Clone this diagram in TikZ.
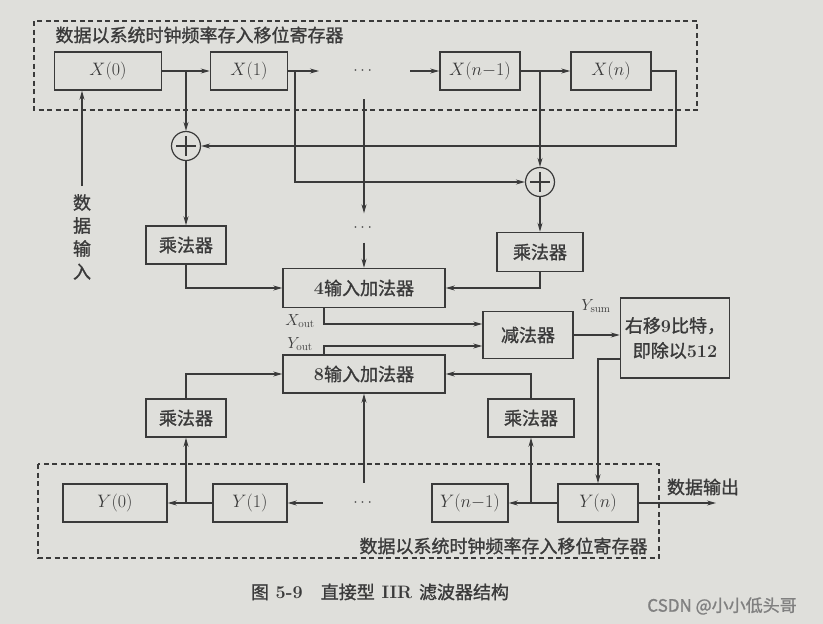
\RequirePackage{fix-cm}
\documentclass[tikz,border=0pt]{standalone}
\usepackage{amsmath}
\usepackage{fontspec}
\usetikzlibrary{arrows.meta,calc}
\newfontfamily\cjk{Noto Sans CJK SC}[FakeBold=1.2, AutoFakeBold=1.2]
\newcommand{\zh}[1]{{\cjk\bfseries #1}}
\definecolor{paper}{RGB}{223,223,219}
\definecolor{ink}{RGB}{58,58,58}

\begin{document}
\begin{tikzpicture}[x=1pt, y=-1pt,
    box/.style={draw=ink, line width=1.5pt, minimum height=38pt, inner sep=0pt,
                text=ink, font=\bfseries\fontsize{18}{20}\selectfont},
    addc/.style={draw=ink, line width=1.2pt, circle, minimum size=29pt, inner sep=0pt,
        path picture={\draw[ink, line width=1.2pt]
            ($(path picture bounding box.north)!0.17!(path picture bounding box.south)$) --
            ($(path picture bounding box.south)!0.17!(path picture bounding box.north)$)
            ($(path picture bounding box.west)!0.17!(path picture bounding box.east)$) --
            ($(path picture bounding box.east)!0.17!(path picture bounding box.west)$);}},
    arr/.style={draw=ink, line width=1.1pt, -{Stealth[length=9pt, width=5pt]}},
    dashbox/.style={draw=ink, line width=1.1pt, dash pattern=on 5pt off 3.5pt},
    lbl/.style={text=ink, font=\cjk\bfseries\fontsize{18}{22}\selectfont},
    mth/.style={text=ink, font=\fontsize{16}{18}\selectfont}
]
\useasboundingbox (0,0) rectangle (823,624);
\fill[paper] (0,0) rectangle (823,624);

\draw[dashbox] (34,21) rectangle (697,110);
\node[lbl, anchor=west] (xtitle) at (52,35) {数据以系统时钟频率存入移位寄存器};

\node[box, minimum width=107pt] (x0) at (108,71) {$X(0)$};
\node[box, minimum width=77pt] (x1) at (249,71) {$X(1)$};
\node[mth] (xdots) at (364,71) {$\cdots$};
\node[box, minimum width=80pt] (xn1) at (480,71) {$X(n{-}1)$};
\node[box, minimum width=80pt] (xn) at (611,71) {$X(n)$};
\coordinate (xa) at (319,71);
\coordinate (xb) at (410,71);
\coordinate (t2) at (295,71);
\coordinate (xfb) at (676,146);
\coordinate (mtop) at (364,99);
\coordinate (din) at (82,186);

\node[addc] (add1) at (186,146) {};
\node[addc] (add2) at (540,182) {};

\node[box, minimum width=80pt] (m1) at (186,245) {\zh{乘法器}};
\node[box, minimum width=86pt, minimum height=39pt] (m2) at (540,252) {\zh{乘法器}};
\node[mth, minimum height=29pt] (mdots) at (364,228) {$\cdots$};
\node[box, minimum width=162pt, minimum height=39pt] (add4) at (364,288) {4\zh{输入加法器}};
\node[box, minimum width=90pt, minimum height=47pt] (sub) at (528,335) {\zh{减法器}};
\node[box, minimum width=109pt, minimum height=80pt, align=center,
      font=\bfseries\fontsize{18}{25}\selectfont] (shift) at (675,338) {\zh{右移}9\zh{比特，}\\\zh{即除以}512};
\node[box, minimum width=162pt] (add8) at (364,374) {8\zh{输入加法器}};
\node[box, minimum width=80pt] (m3) at (186,418) {\zh{乘法器}};
\node[box, minimum width=86pt] (m4) at (531,418) {\zh{乘法器}};

\node[mth] (xoutl) at (300,321) {$X_{\text{out}}$};
\node[mth] (youtl) at (300,344) {$Y_{\text{out}}$};
\node[mth] (ysuml) at (596,306) {$Y_{\text{sum}}$};

\draw[dashbox] (38,464) rectangle (659,558);
\node[box, minimum width=104pt] (y0) at (115,503) {$Y(0)$};
\node[box, minimum width=74pt] (y1) at (250,503) {$Y(1)$};
\node[mth, minimum height=40pt] (ydots) at (364,503) {$\cdots$};
\node[box, minimum width=76pt] (yn1) at (470,503) {$Y(n{-}1)$};
\node[box, minimum width=80pt] (yn) at (598,503) {$Y(n)$};
\coordinate (yb) at (323,503);
\coordinate (yout) at (716,503);
\node[lbl, anchor=east] (ytitle) at (651,546) {数据以系统时钟频率存入移位寄存器};
\node[lbl] (douttxt) at (703,487) {数据输出};
\node[lbl, align=center, anchor=north, inner sep=0pt,
      font=\cjk\bfseries\fontsize{18}{23}\selectfont] (dintxt) at (82,194) {数\\据\\输\\入};

\draw[arr] (x0) -- (x1);
\draw[arr] (x1) -- (xa);
\draw[arr] (xb) -- (xn1);
\draw[arr] (xn1) -- (xn);
\draw[arr] (din) -- (din |- x0.south);
\draw[arr] (x0 -| add1) -- (add1);
\draw[arr] (t2) |- (add2);
\draw[arr] (xn1 -| add2) -- (add2);
\draw[arr] (xn) -| (xfb) -- (add1);
\draw[arr] (add1) -- (m1);
\draw[arr] (add2) -- (m2);
\draw[arr] (mtop) -- (mdots);
\draw[arr] (mdots) -- (add4);
\draw[arr] (m1) |- (add4);
\draw[arr] (m2) |- (add4);
\draw[arr] ([xshift=-40pt]add4.south) |- ([yshift=11pt]sub.west);
\draw[arr] ([xshift=-40pt]add8.north) |- ([yshift=-11pt]sub.west);
\draw[arr] (sub) -- (sub -| shift.west);
\draw[arr] ([yshift=-21pt]shift.west) -| (yn);
\draw[arr] (yn) -- (yn1);
\draw[arr] (yn -| m4) -- (m4);
\draw[arr] (yn) -- (yout);
\draw[arr] (yb) -- (y1);
\draw[arr] (y1) -- (y0);
\draw[arr] (y1 -| m3) -- (m3);
\draw[arr] (ydots) -- (add8);
\draw[arr] (m3) |- (add8);
\draw[arr] (m4) |- (add8);

\node[text=ink, font=\bfseries\fontsize{18}{20}\selectfont] (cap) at (380,592)
    {\zh{图} 5-9\quad\zh{直接型} IIR \zh{滤波器结构}};
\node[text=black!50, font=\cjk\fontsize{17}{19}\selectfont] (wm) at (722,606) {CSDN @小小低头哥};

\end{tikzpicture}
\end{document}
